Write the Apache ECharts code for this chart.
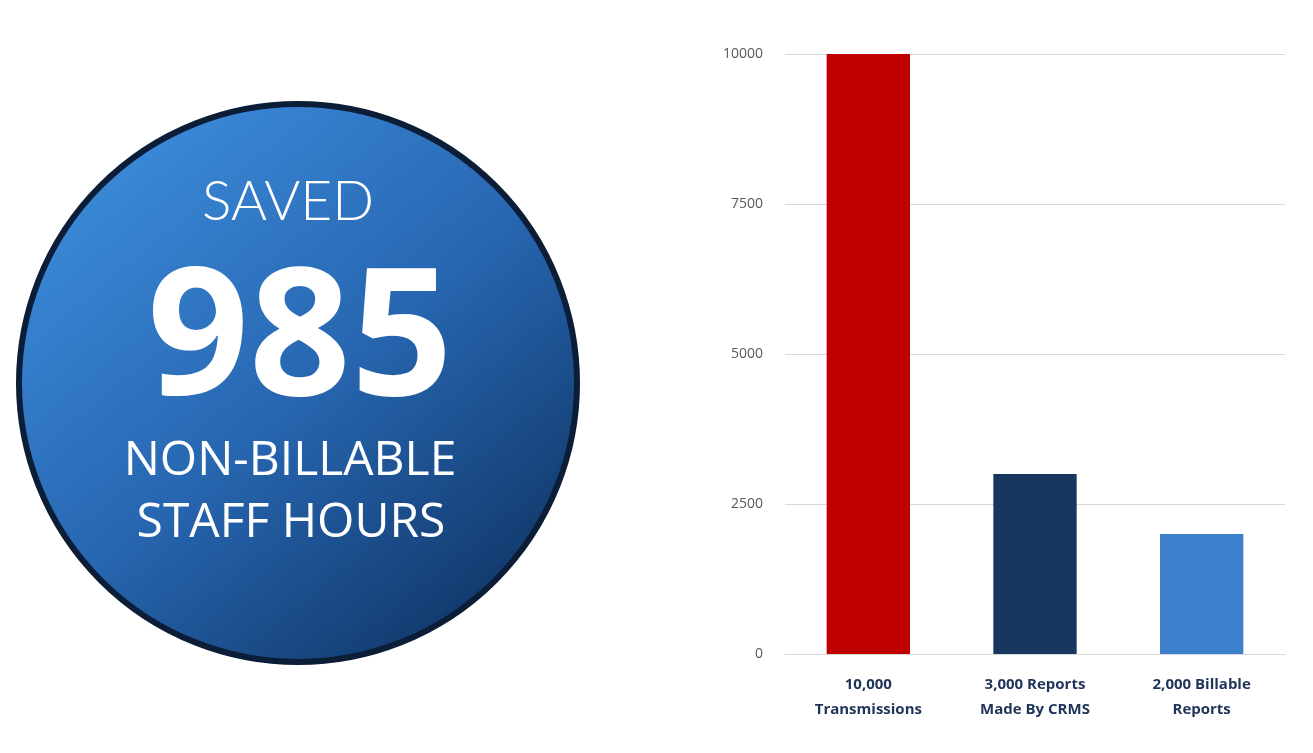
<!DOCTYPE html>
<html>
<head>
<meta charset="utf-8">
<script src="https://cdn.jsdelivr.net/npm/echarts@6/dist/echarts.min.js"></script>
<style>
html,body{margin:0;padding:0;background:#fff;}
#c{width:1313px;height:753px;}
</style>
</head>
<body>
<div id="c"></div>
<script>
var categories = ['10,000\nTransmissions', '3,000 Reports\nMade By CRMS', '2,000 Billable\nReports'];
var values = [10000, 3000, 2000];
var barColors = ['#c00000', '#17375e', '#3d80cc'];
var yTicks = [0, 2500, 5000, 7500, 10000];
var badgeTexts = ['SAVED', '985', 'NON-BILLABLE', 'STAFF HOURS'];

var chart = echarts.init(document.getElementById('c'));
var cx = 298, cy = 383, r = 279;
chart.setOption({
  animation: false,
  grid: {left: 785, right: 28, top: 54, bottom: 99, containLabel: false},
  xAxis: {
    type: 'category',
    data: categories,
    axisTick: {show: false},
    axisLine: {lineStyle: {color: '#d9d9d9', width: 1}},
    axisLabel: {
      color: '#1f3458', fontWeight: 'bold', fontSize: 15,
      fontFamily: 'Open Sans, sans-serif', lineHeight: 25, margin: 18, interval: 0
    }
  },
  yAxis: {
    type: 'value',
    min: yTicks[0], max: yTicks[yTicks.length - 1], interval: 2500,
    axisLine: {show: false}, axisTick: {show: false},
    splitLine: {lineStyle: {color: '#d9d9d9', width: 1}},
    axisLabel: {color: '#595959', fontSize: 14, margin: 22, fontFamily: 'Open Sans, sans-serif',
      formatter: function (v) { return String(v); }}
  },
  series: [{
    type: 'bar',
    barWidth: '50%',
    data: values.map(function (v, i) { return {value: v, itemStyle: {color: barColors[i]}}; })
  }],
  graphic: [
    {
      type: 'circle',
      shape: {cx: cx, cy: cy, r: r},
      style: {
        fill: new echarts.graphic.LinearGradient(0.15, 0.1, 0.85, 0.95, [
          {offset: 0, color: '#3b8ad9'},
          {offset: 0.5, color: '#2766b0'},
          {offset: 1, color: '#0f3566'}
        ]),
        stroke: '#0c1d38', lineWidth: 6
      }
    },
    {
      type: 'text', x: 288, y: 202,
      style: {text: badgeTexts[0], fill: '#fff', font: '300 55px Lato, "Open Sans", sans-serif', textAlign: 'center', textVerticalAlign: 'middle'}
    },
    {
      type: 'text', x: 300, y: 344,
      style: {text: badgeTexts[1], fill: '#fff', font: 'bold 178px "Open Sans", sans-serif', textAlign: 'center', textVerticalAlign: 'middle'}
    },
    {
      type: 'text', x: 290, y: 461,
      style: {text: badgeTexts[2], fill: '#fff', font: '48px "Open Sans", sans-serif', textAlign: 'center', textVerticalAlign: 'middle'}
    },
    {
      type: 'text', x: 291, y: 523,
      style: {text: badgeTexts[3], fill: '#fff', font: '48px "Open Sans", sans-serif', textAlign: 'center', textVerticalAlign: 'middle'}
    }
  ]
});
</script>
</body>
</html>
